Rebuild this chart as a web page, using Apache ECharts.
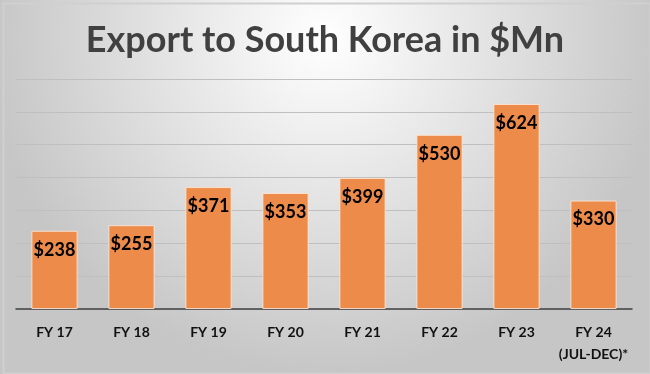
<!DOCTYPE html>
<html><head><meta charset="utf-8">
<script src="https://cdn.jsdelivr.net/npm/echarts@6/dist/echarts.min.js"></script>
<style>html,body{margin:0;padding:0;background:#fff}#c{width:650px;height:374px}</style>
</head><body><div id="c"></div>
<script>
var categories = ["FY 17","FY 18","FY 19","FY 20","FY 21","FY 22","FY 23","FY 24\n(JUL-DEC)*"];
var values = [238,255,371,353,399,530,624,330];
var chartTitle = "Export to South Korea in $Mn";
var chart = echarts.init(document.getElementById('c'));
chart.setOption({
  backgroundColor: {type:'radial', x:0.5, y:0.1, r:0.9, colorStops:[{offset:0,color:'#ffffff'},{offset:1,color:'#c6c6c6'}]},
  graphic: [{type:'rect', left:1, top:1, shape:{width:647, height:370}, style:{fill:'none', stroke:'#d0d0d0', lineWidth:2}, silent:true}],
  title: {text: chartTitle, left:'center', top:17, textStyle:{fontFamily:'Lato', fontWeight:'bold', fontSize:36, color:'#404040'}},
  grid: {left:16, right:18, top:79, bottom:65, containLabel:false},
  xAxis: {type:'category', data:categories,
    axisLine:{lineStyle:{color:'#404040', width:1.5}}, axisTick:{show:false},
    axisLabel:{interval:0, color:'#111', fontWeight:'bold', fontSize:14, fontFamily:'Lato', margin:12, lineHeight:22}},
  yAxis: {type:'value', min:0, max:700, interval:100, axisLabel:{show:false}, axisLine:{show:false}, axisTick:{show:false},
    splitLine:{lineStyle:{color:'#bfbfbf', width:1}}},
  series: [{type:'bar', data:values, barWidth:'60%',
    itemStyle:{color:'#ED8B4B', borderColor:'rgba(255,235,220,0.8)', borderWidth:1},
    label:{show:true, position:'insideTop', distance:10, formatter:function(p){return '$'+p.value;}, color:'#000', fontWeight:'bold', fontSize:18, fontFamily:'Lato'}}]
});
</script></body></html>
